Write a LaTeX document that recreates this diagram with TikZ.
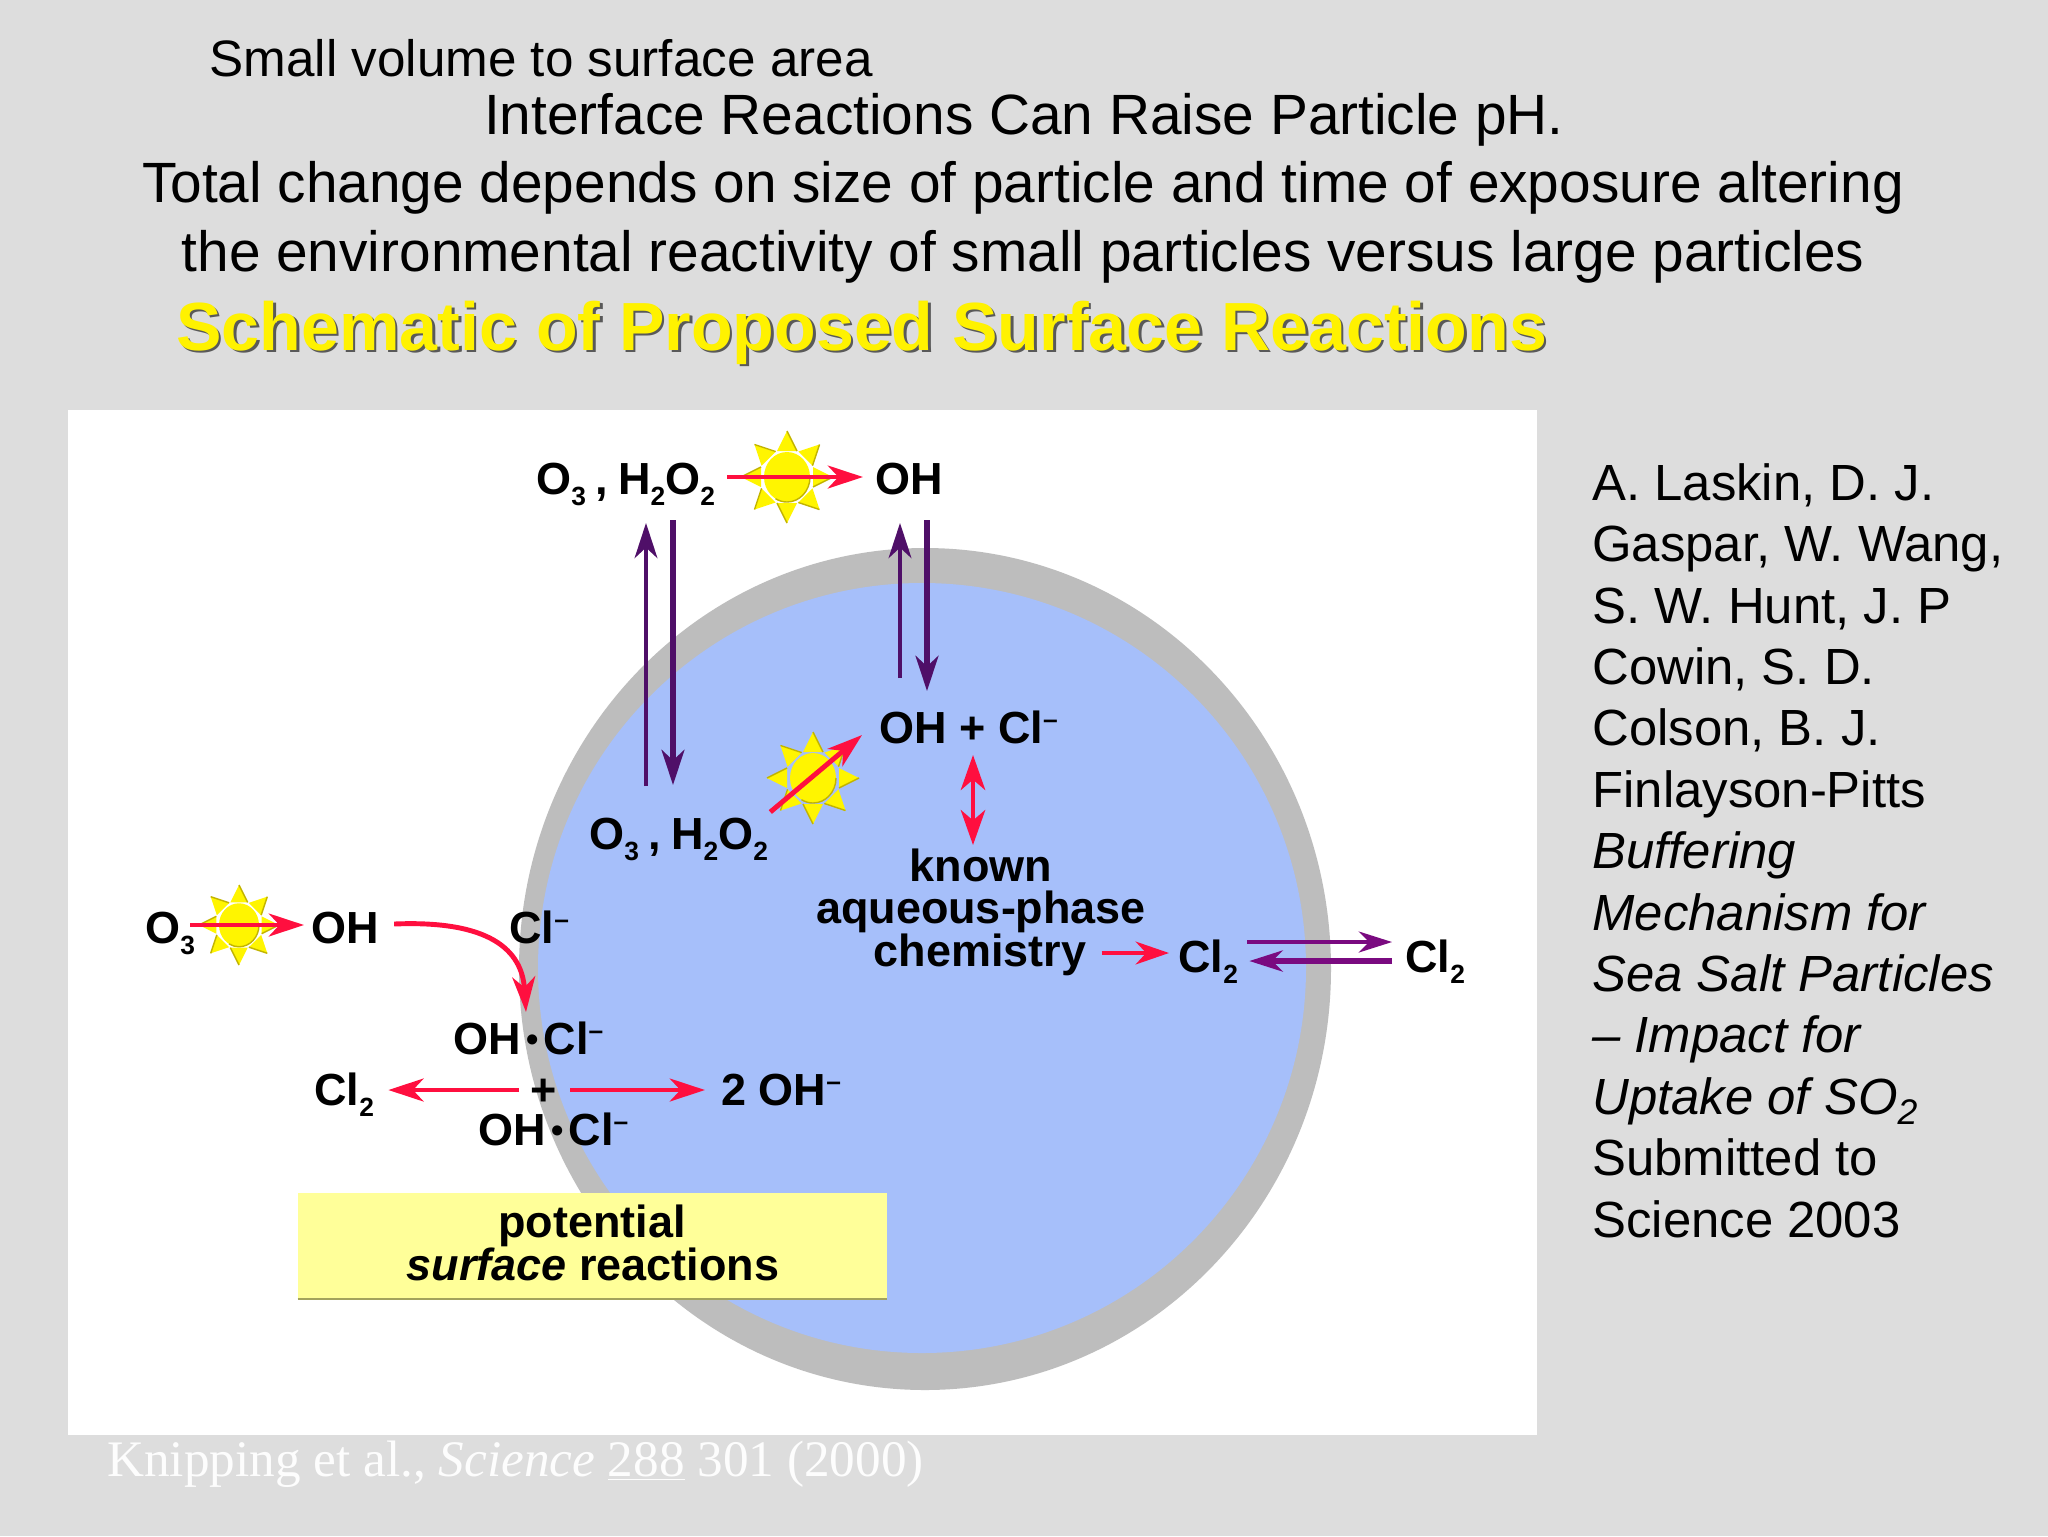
\documentclass[tikz,border=0pt]{standalone}
\usepackage{fontspec}
\setmainfont{Liberation Sans}
\newfontfamily\citefont{Liberation Serif}
\usepackage{xcolor}
\usetikzlibrary{arrows.meta}
\definecolor{slidegray}{HTML}{DDDDDD}
\definecolor{shellgray}{HTML}{BDBDBD}
\definecolor{dropblue}{HTML}{A6BFFA}
\definecolor{boxyellow}{HTML}{FFFF99}
\definecolor{boxedge}{HTML}{A3A35C}
\definecolor{sunyellow}{HTML}{FFF500}
\definecolor{sunedge}{HTML}{C2B400}
\definecolor{rxnred}{HTML}{FF0F3F}
\definecolor{darkpurple}{HTML}{4F0F68}
\definecolor{brightpurple}{HTML}{7A0A80}
\newcommand{\chemfont}{\fontsize{25.6}{24.2}\selectfont\bfseries}
\newcommand{\chemsub}[1]{\raisebox{-6.8pt}{\fontsize{15}{15}\selectfont #1}}
\newcommand{\chemminus}{\raisebox{8.5pt}{\fontsize{15}{15}\selectfont --}}
\newcommand{\chemdot}{\kern3pt\raisebox{1.5pt}{\fontsize{20}{20}\selectfont •}\kern3pt}
\newcommand{\chemcomma}{\kern5.6pt,\kern5.6pt}
\tikzset{
	chemlabel/.style={font=\chemfont, inner sep=0pt, anchor=base west},
	chemcenter/.style={font=\chemfont, inner sep=0pt, anchor=base},
	redarrow/.style={draw=rxnred, line width=2.8pt, -{Stealth[length=20pt,width=13pt,inset=6pt]}},
	redthin/.style={draw=rxnred, line width=1.8pt, -{Stealth[length=19pt,width=13pt,inset=6pt]}},
	redboth/.style={draw=rxnred, line width=1.8pt, {Stealth[length=20pt,width=14pt,inset=6pt]}-{Stealth[length=20pt,width=14pt,inset=6pt]}},
	purplethin/.style={draw=darkpurple, line width=1.9pt, -{Stealth[length=20pt,width=13pt,inset=6pt]}},
	purplewide/.style={draw=darkpurple, line width=3pt, -{Stealth[length=20pt,width=13pt,inset=6pt]}},
	purplehthin/.style={draw=brightpurple, line width=1.9pt, -{Stealth[length=19pt,width=12pt,inset=6pt]}},
	purplehwide/.style={draw=brightpurple, line width=3pt, -{Stealth[length=19pt,width=12pt,inset=6pt]}},
	sunpic/.pic={
		\foreach \ang in {0,45,...,315}{
			\fill[sunyellow,rotate=\ang] (26,-10) -- (46,0) -- (26,10) -- cycle;
			\draw[sunedge,line width=.8pt,rotate=\ang] (46,0) -- (26,10);
		}
		\fill[sunyellow] (0,0) ellipse (23 and 25);
		\draw[sunedge,line width=.8pt] (23,0) arc[start angle=0,end angle=120,x radius=23,y radius=25];
	}
}
\begin{document}
\begin{tikzpicture}[x=0.02cm,y=-0.02cm]
	\fill[slidegray] (0,0) rectangle (2048,1536);
	\useasboundingbox (0,0) rectangle (2048,1536);
	\fill[white] (68,410) rectangle (1537,1435);
	\fill[shellgray] (925,969) ellipse (406 and 421);
	\fill[dropblue] (922,968) ellipse (384 and 385);

	\node[inner sep=0pt, anchor=base west, font=\fontsize{29.15}{34}\selectfont] (smallnote) at (209,76) {Small volume to surface area};
	\node[inner sep=0pt, anchor=base, font=\fontsize{32.33}{38}\selectfont] (titleone) at (1024,134) {Interface Reactions Can Raise Particle pH.};
	\node[inner sep=0pt, anchor=base, font=\fontsize{32.33}{38}\selectfont] (titletwo) at (1023,202) {Total change depends on size of particle and time of exposure altering};
	\node[inner sep=0pt, anchor=base, font=\fontsize{32.33}{38}\selectfont] (titlethree) at (1023,271) {the environmental reactivity of small particles versus large particles};
	\node[inner sep=0pt, anchor=base west, text=black!65, font=\fontsize{38.78}{46}\selectfont\bfseries] (headshadow) at (178.5,352.5) {Schematic of Proposed Surface Reactions};
	\node[inner sep=0pt, anchor=base west, text=yellow, font=\fontsize{38.78}{46}\selectfont\bfseries] (headline) at (176,350) {Schematic of Proposed Surface Reactions};

	\node[inner sep=0pt, anchor=north west, align=left, font=\fontsize{28.95}{34.95}\selectfont] (refnote) at (1592,463) {A. Laskin, D. J.\\Gaspar, W. Wang,\\S. W. Hunt, J. P\\Cowin, S. D.\\Colson, B. J.\\Finlayson-Pitts\\\textit{Buffering}\\\textit{Mechanism for}\\\textit{Sea Salt Particles}\\\textit{-- Impact for}\\\textit{Uptake of SO\textsubscript{2}}\\Submitted to\\Science 2003};
	\node[inner sep=0pt, anchor=base west, text=white!95!slidegray, font=\citefont\fontsize{29.15}{34}\selectfont] (citeline) at (107,1476) {Knipping et al., \textit{Science} \underline{288} 301 (2000)};

	\node[inner sep=0pt, minimum width=11.78cm, minimum height=2.12cm, fill=boxyellow] (surfacebox) at (592.5,1246) {};
	\draw[boxedge,line width=1pt] (surfacebox.south west) -- (surfacebox.south east);
	\node[chemcenter] (potentialline) at (592,1237) {potential};
	\node[chemcenter] (surfaceline) at (593,1280) {\textit{surface} reactions};

	\pic at (787,477) {sunpic};
	\pic at (813,778) {sunpic};
	\pic[scale=.87] at (239,925) {sunpic};

	\node[chemlabel] (topozone) at (536,494) {O\chemsub{3}\chemcomma H\chemsub{2}O\chemsub{2}};
	\node[chemlabel] (topoh) at (875,494) {OH};
	\node[chemlabel] (lowozone) at (589,849) {O\chemsub{3}\chemcomma H\chemsub{2}O\chemsub{2}};
	\node[chemlabel] (ohcl) at (879,743) {OH + Cl\chemminus};
	\node[chemcenter] (knownline) at (981,881) {known};
	\node[chemcenter] (aqueousline) at (981,923) {aqueous-phase};
	\node[chemcenter] (chemline) at (980,966) {chemistry};
	\node[chemlabel] (clinner) at (1178,972) {Cl\chemsub{2}};
	\node[chemlabel] (clouter) at (1405,972) {Cl\chemsub{2}};
	\node[chemlabel] (leftozone) at (145,943) {O\chemsub{3}};
	\node[chemlabel] (leftoh) at (311,943) {OH};
	\node[chemlabel] (surfcl) at (509,943) {Cl\chemminus};
	\node[chemlabel] (adductone) at (453,1054) {OH\chemdot Cl\chemminus};
	\node[chemcenter] (plussign) at (544,1105) {+};
	\node[chemlabel] (adducttwo) at (478,1145) {OH\chemdot Cl\chemminus};
	\node[chemlabel] (clleft) at (314,1105) {Cl\chemsub{2}};
	\node[chemlabel] (twooh) at (721,1105) {2 OH\chemminus};

	\draw[redarrow] ([shift={(12,-17)}]topozone.base east) -- ([shift={(-12,-17)}]topoh.base west);
	\draw[redarrow] ([shift={(2,-37)}]lowozone.base east) -- ([shift={(-17,-8)}]ohcl.base west);
	\draw[purplethin] ([shift={(57,-63)}]lowozone.base west) -- ([shift={(110,29)}]topozone.base west);
	\draw[purplewide] ([shift={(137,26)}]topozone.base west) -- ([shift={(84,-64)}]lowozone.base west);
	\draw[purplethin] ([shift={(21,-65)}]ohcl.base west) -- ([shift={(25,29)}]topoh.base west);
	\draw[purplewide] ([shift={(52,26)}]topoh.base west) -- ([shift={(48,-52)}]ohcl.base west);
	\draw[redboth] ([shift={(94,12)}]ohcl.base west) -- ([shift={(-8,-36)}]knownline.base);
	\draw[redthin] ([shift={(15,-13)}]chemline.base east) -- ([shift={(-9,-19)}]clinner.base west);
	\draw[purplehthin] ([shift={(9,-30)}]clinner.base east) -- ([shift={(-13,-30)}]clouter.base west);
	\draw[purplehwide] ([shift={(-13,-11)}]clouter.base west) -- ([shift={(11,-11)}]clinner.base east);
	\draw[redarrow] ([shift={(-5,-18)}]leftozone.base east) -- ([shift={(-7,-18)}]leftoh.base west);
	\draw[redarrow] ([shift={(15,-19)}]leftoh.base east) .. controls (490,920) and (522,950) .. ([shift={(73,-42)}]adductone.base west);
	\draw[redarrow] ([shift={(-25,-15)}]plussign.base) -- ([shift={(14,-15)}]clleft.base east);
	\draw[redarrow] ([shift={(26,-15)}]plussign.base) -- ([shift={(-16,-15)}]twooh.base west);
\end{tikzpicture}
\end{document}
